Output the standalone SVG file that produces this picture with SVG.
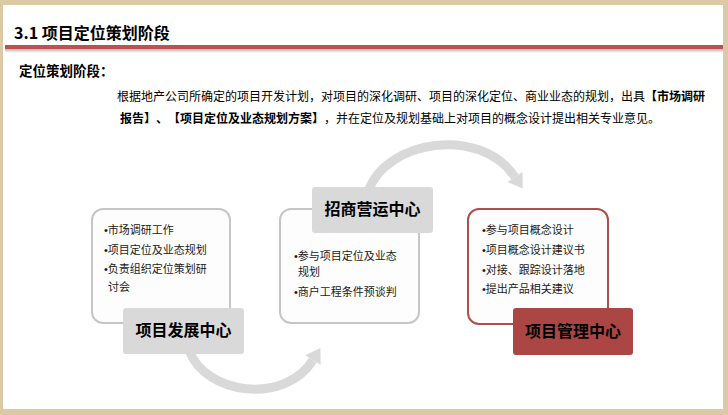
<svg xmlns="http://www.w3.org/2000/svg" width="728" height="415" viewBox="0 0 728 415">
<style>
text{text-spacing-trim:space-all}
.cjk{font-family:"Noto Sans CJK SC","Liberation Sans",sans-serif;fill:#000}
.bt{font-family:"Liberation Sans","Noto Sans CJK SC",sans-serif;font-size:11px;fill:#1a1a1a}
.lab{font-family:"Noto Sans CJK SC",sans-serif;font-size:16px;font-weight:bold;fill:#000;text-anchor:middle}
.box{fill:#fdfdfd;stroke:#c6c6c6;stroke-width:2}
.boxr{fill:#fdfdfd;stroke:#b04e4c;stroke-width:2}
.tag{fill:#d9d9d9}
.tagr{fill:#ab4644}
.arc{fill:none;stroke:#d9d9d9;stroke-width:9}
</style>
<defs>
<marker id="ah" markerUnits="userSpaceOnUse" markerWidth="16" markerHeight="20" refX="0" refY="10" orient="auto" overflow="visible">
<path d="M0,1 L14,10 L0,19 z" fill="#d9d9d9"/>
</marker>
<linearGradient id="sh" x1="0" y1="0" x2="0" y2="1">
<stop offset="0" stop-color="#b8b8b8"/>
<stop offset="1" stop-color="#ffffff"/>
</linearGradient>
</defs>
<rect x="0" y="0" width="728" height="415" fill="#dccaa6"/>
<rect x="3" y="5" width="720" height="404" fill="#ffffff"/>
<g id="header">
<text class="cjk" x="14" y="39" font-size="16" font-weight="bold">3.1 项目定位策划阶段</text>
<rect x="5" y="45" width="718" height="4" fill="#c0504d"/>
<rect x="5" y="49" width="718" height="4" fill="url(#sh)"/>
<text class="cjk" x="19" y="76" font-size="13.5" font-weight="bold">定位策划阶段：</text>
<text class="cjk" x="117" y="101" font-size="12">根据地产公司所确定的项目开发计划，对项目的深化调研、项目的深化定位、商业业态的规划，出具<tspan font-weight="bold">【市场调研</tspan></text>
<text class="cjk" x="120" y="123" font-size="12"><tspan font-weight="bold">报告】、【项目定位及业态规划方案】</tspan>，并在定位及规划基础上对项目的概念设计提出相关专业意见。</text>
</g>
<g id="connectors">
<path class="arc" d="M189,350 C205,395 285,405 313,360" marker-end="url(#ah)"/>
<path class="arc" d="M368,192 C385,140 480,125 515,177" marker-end="url(#ah)"/>
</g>
<g id="node-dev">
<rect class="box" x="92" y="209" width="138" height="114" rx="11"/>
<text class="bt" x="104" y="234">•市场调研工作</text>
<text class="bt" x="104" y="254">•项目定位及业态规划</text>
<text class="bt" x="104" y="273">•负责组织定位策划研</text>
<text class="bt" x="108" y="290.5">讨会</text>
<rect class="tag" x="123" y="308" width="121" height="46" rx="3"/>
<text class="lab" x="183.5" y="336">项目发展中心</text>
</g>
<g id="node-ops">
<rect class="box" x="280" y="209" width="139" height="114" rx="11"/>
<rect class="tag" x="312" y="187" width="121" height="46" rx="3"/>
<text class="lab" x="372.5" y="215">招商营运中心</text>
<text class="bt" x="294" y="259.5">•参与项目定位及业态</text>
<text class="bt" x="298" y="276">规划</text>
<text class="bt" x="294" y="295.5">•商户工程条件预谈判</text>
</g>
<g id="node-mgmt">
<rect class="boxr" x="468" y="209" width="140" height="115" rx="11"/>
<text class="bt" x="482" y="234">•参与项目概念设计</text>
<text class="bt" x="482" y="254">•项目概念设计建议书</text>
<text class="bt" x="482" y="274">•对接、跟踪设计落地</text>
<text class="bt" x="482" y="293">•提出产品相关建议</text>
<rect class="tagr" x="513" y="308" width="120" height="47" rx="3"/>
<text class="lab" x="573" y="337">项目管理中心</text>
</g>
</svg>
